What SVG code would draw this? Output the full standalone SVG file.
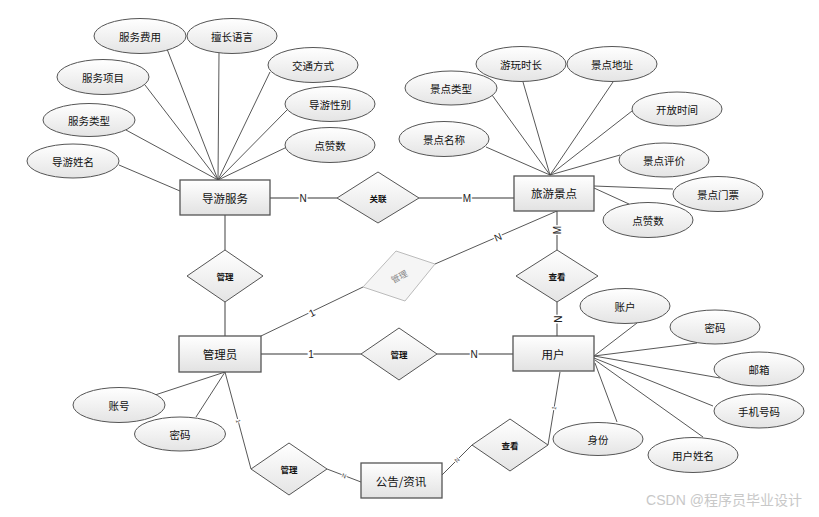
<svg xmlns="http://www.w3.org/2000/svg" width="819" height="517" viewBox="0 0 819 517">
<defs>
<linearGradient id="gE" x1="0" y1="0" x2="0" y2="1"><stop offset="0" stop-color="#ffffff"/><stop offset="1" stop-color="#e4e4e4"/></linearGradient>
<linearGradient id="gR" x1="0" y1="0" x2="0" y2="1"><stop offset="0" stop-color="#ffffff"/><stop offset="1" stop-color="#e2e2e2"/></linearGradient>
<style>
.ent{fill:url(#gR);stroke:#555;stroke-width:1.3}
.att{fill:url(#gE);stroke:#555;stroke-width:1}
.rel{fill:url(#gE);stroke:#555;stroke-width:1}
.t{font-family:"Noto Sans CJK SC","Liberation Sans",sans-serif;fill:#111;text-anchor:middle;dominant-baseline:central}
.te{font-size:11.5px}
.ta{font-size:10.5px}
.tr{font-size:8.5px;font-weight:bold}
.al{stroke:#444;stroke-width:0.9;fill:none}
.cl{stroke:#777;stroke-width:1.4;fill:none}
.lb{font-family:"Liberation Sans",sans-serif;font-size:10px;fill:#222;text-anchor:middle;dominant-baseline:central;stroke:#fff;stroke-width:3;paint-order:stroke}
.ls{font-family:"Liberation Sans",sans-serif;font-size:6px;fill:#444;text-anchor:middle;dominant-baseline:central;stroke:#fff;stroke-width:2;paint-order:stroke}
</style>
</defs>
<rect width="819" height="517" fill="#fff"/>
<g id="connectors">
<line class="al" x1="167" y1="49" x2="218" y2="180"/>
<line class="al" x1="219" y1="53" x2="218" y2="180"/>
<line class="al" x1="270" y1="72" x2="218" y2="180"/>
<line class="al" x1="145" y1="85" x2="218" y2="180"/>
<line class="al" x1="287" y1="110" x2="218" y2="180"/>
<line class="al" x1="126" y1="130" x2="218" y2="180"/>
<line class="al" x1="287" y1="147" x2="218" y2="180"/>
<line class="al" x1="119" y1="165" x2="180" y2="191"/>
<line class="al" x1="523" y1="82" x2="550" y2="175"/>
<line class="al" x1="613" y1="82" x2="550" y2="175"/>
<line class="al" x1="492" y1="95" x2="550" y2="175"/>
<line class="al" x1="632" y1="111" x2="550" y2="175"/>
<line class="al" x1="486" y1="147" x2="550" y2="175"/>
<line class="al" x1="620" y1="155" x2="550" y2="175"/>
<line class="al" x1="594" y1="186" x2="673" y2="189"/>
<line class="al" x1="594" y1="188" x2="629" y2="204"/>
<line class="al" x1="594" y1="356" x2="637" y2="323"/>
<line class="al" x1="594" y1="356" x2="697" y2="343"/>
<line class="al" x1="594" y1="356" x2="720" y2="378"/>
<line class="al" x1="594" y1="358" x2="713" y2="406"/>
<line class="al" x1="595" y1="363" x2="617" y2="422"/>
<line class="al" x1="595" y1="360" x2="703" y2="437"/>
<line class="al" x1="225" y1="372" x2="155" y2="395"/>
<line class="al" x1="225" y1="372" x2="196" y2="417"/>
<line class="cl" x1="270" y1="198" x2="337" y2="198"/>
<line class="cl" x1="419" y1="198" x2="514" y2="198"/>
<line class="cl" x1="225" y1="215" x2="225" y2="250"/>
<line class="cl" x1="225" y1="302" x2="225" y2="336"/>
<line class="cl" x1="557" y1="211" x2="557" y2="250"/>
<line class="cl" x1="557" y1="302" x2="557" y2="336"/>
<line class="cl" x1="261" y1="354" x2="361" y2="354"/>
<line class="cl" x1="437" y1="354" x2="513" y2="354"/>
<line class="al" x1="261" y1="336" x2="363" y2="287"/>
<line class="al" x1="435" y1="264" x2="557" y2="211"/>
<line class="al" x1="225" y1="372" x2="251" y2="469"/>
<line class="al" x1="327" y1="469" x2="361" y2="482"/>
<line class="al" x1="442" y1="475" x2="472" y2="445"/>
<line class="al" x1="548" y1="445" x2="560" y2="372"/>
<text class="lb" x="303" y="198">N</text>
<text class="lb" x="467" y="198">M</text>
<text class="lb" x="557" y="230" transform="rotate(-90 557 230)">M</text>
<text class="lb" x="557" y="319" transform="rotate(90 557 319)">N</text>
<text class="lb" x="311" y="354">1</text>
<text class="lb" x="474" y="354">N</text>
<text class="lb" x="312" y="313" transform="rotate(-26 312 313)">1</text>
<text class="lb" x="498" y="237" transform="rotate(-23 498 237)">N</text>
<text class="ls" x="238" y="421" transform="rotate(75 238 421)">1</text>
<text class="ls" x="344" y="476" transform="rotate(21 344 476)">N</text>
<text class="ls" x="457" y="460" transform="rotate(-45 457 460)">N</text>
<text class="ls" x="554" y="408" transform="rotate(-80 554 408)">1</text>
</g>
<g id="n-daoyoufuwu"><rect class="ent" x="180" y="180" width="90" height="35"/><text class="t te" x="225" y="198">导游服务</text></g>
<g id="n-lvyoujingdian"><rect class="ent" x="514" y="176" width="80" height="35"/><text class="t te" x="554" y="193">旅游景点</text></g>
<g id="n-guanliyuan"><rect class="ent" x="179" y="336" width="82" height="36"/><text class="t te" x="220" y="354">管理员</text></g>
<g id="n-yonghu"><rect class="ent" x="513" y="336" width="81" height="35"/><text class="t te" x="553" y="354">用户</text></g>
<g id="n-gonggao"><rect class="ent" x="361" y="463" width="81" height="35"/><text class="t te" x="401" y="481">公告/资讯</text></g>
<g id="r-guanlian"><polygon class="rel" points="378,172 419,198 378,223 337,198"/><text class="t tr" x="378" y="198">关联</text></g>
<g id="r-guanli1"><polygon class="rel" points="225,250 263,276 225,302 187,276"/><text class="t tr" x="225" y="276">管理</text></g>
<g id="r-chakan1"><polygon class="rel" points="557,250 598,276 557,302 516,276"/><text class="t tr" x="557" y="276">查看</text></g>
<g id="r-guanli2"><polygon points="396,251 435,264 405,301 363,287" fill="#f5f5f5" stroke="#bbb" stroke-width="1"/><text class="t" x="399" y="276" font-size="8.5px" style="fill:#888" transform="rotate(-28 399 276)">管理</text></g>
<g id="r-guanli3"><polygon class="rel" points="399,328 437,354 399,380 361,354"/><text class="t tr" x="399" y="354">管理</text></g>
<g id="r-guanli4"><polygon class="rel" points="289,443 327,469 289,495 251,469"/><text class="t tr" x="289" y="469">管理</text></g>
<g id="r-chakan2"><polygon class="rel" points="510,419 548,445 510,471 472,445"/><text class="t tr" x="510" y="445">查看</text></g>
<g id="a-fuwufeiyong"><ellipse class="att" cx="140" cy="36" rx="46" ry="17.5"/><text class="t ta" x="140" y="36">服务费用</text></g>
<g id="a-shanchangyuyan"><ellipse class="att" cx="232" cy="36" rx="45" ry="17.5"/><text class="t ta" x="232" y="36">擅长语言</text></g>
<g id="a-jiaotongfangshi"><ellipse class="att" cx="313" cy="65" rx="45" ry="17.5"/><text class="t ta" x="313" y="65">交通方式</text></g>
<g id="a-fuwuxiangmu"><ellipse class="att" cx="103" cy="77" rx="46" ry="17.5"/><text class="t ta" x="103" y="77">服务项目</text></g>
<g id="a-daoyouxingbie"><ellipse class="att" cx="330" cy="104" rx="45" ry="17.5"/><text class="t ta" x="330" y="104">导游性别</text></g>
<g id="a-fuwuleixing"><ellipse class="att" cx="89" cy="120" rx="46" ry="16.5"/><text class="t ta" x="89" y="120">服务类型</text></g>
<g id="a-dianzanshu1"><ellipse class="att" cx="330" cy="145" rx="45" ry="17.5"/><text class="t ta" x="330" y="145">点赞数</text></g>
<g id="a-daoyouxingming"><ellipse class="att" cx="73" cy="161" rx="46" ry="17"/><text class="t ta" x="73" y="161">导游姓名</text></g>
<g id="a-youwanshichang"><ellipse class="att" cx="521" cy="64" rx="45" ry="17.5"/><text class="t ta" x="521" y="64">游玩时长</text></g>
<g id="a-jingdiandizhi"><ellipse class="att" cx="612" cy="64" rx="45" ry="17.5"/><text class="t ta" x="612" y="64">景点地址</text></g>
<g id="a-jingdianleixing"><ellipse class="att" cx="451" cy="88" rx="46" ry="17"/><text class="t ta" x="451" y="88">景点类型</text></g>
<g id="a-kaifangshijian"><ellipse class="att" cx="677" cy="109" rx="45" ry="17"/><text class="t ta" x="677" y="109">开放时间</text></g>
<g id="a-jingdianmingcheng"><ellipse class="att" cx="444" cy="139" rx="45" ry="17.5"/><text class="t ta" x="444" y="139">景点名称</text></g>
<g id="a-jingdianpingjia"><ellipse class="att" cx="664" cy="160" rx="45" ry="17"/><text class="t ta" x="664" y="160">景点评价</text></g>
<g id="a-jingdianmenpiao"><ellipse class="att" cx="718" cy="194" rx="45" ry="17.5"/><text class="t ta" x="718" y="194">景点门票</text></g>
<g id="a-dianzanshu2"><ellipse class="att" cx="648" cy="220" rx="45" ry="17.5"/><text class="t ta" x="648" y="220">点赞数</text></g>
<g id="a-zhanghu"><ellipse class="att" cx="625" cy="306" rx="45" ry="17.5"/><text class="t ta" x="625" y="306">账户</text></g>
<g id="a-mima2"><ellipse class="att" cx="715" cy="327" rx="45" ry="17"/><text class="t ta" x="715" y="327">密码</text></g>
<g id="a-youxiang"><ellipse class="att" cx="759" cy="369" rx="45" ry="17"/><text class="t ta" x="759" y="369">邮箱</text></g>
<g id="a-shoujihaoma"><ellipse class="att" cx="759" cy="411" rx="45" ry="17"/><text class="t ta" x="759" y="411">手机号码</text></g>
<g id="a-shenfen"><ellipse class="att" cx="598" cy="439" rx="45" ry="16.5"/><text class="t ta" x="598" y="439">身份</text></g>
<g id="a-yonghuxingming"><ellipse class="att" cx="693" cy="455" rx="45" ry="17.5"/><text class="t ta" x="693" y="455">用户姓名</text></g>
<g id="a-zhanghao"><ellipse class="att" cx="119" cy="405" rx="46" ry="17.5"/><text class="t ta" x="119" y="405">账号</text></g>
<g id="a-mima1"><ellipse class="att" cx="180" cy="434" rx="45.5" ry="17"/><text class="t ta" x="180" y="434">密码</text></g>
<text x="724" y="500" font-family="'Liberation Sans','Noto Sans CJK SC',sans-serif" font-size="14" fill="#c8c8c8" text-anchor="middle" dominant-baseline="central">CSDN @程序员毕业设计</text>
</svg>
